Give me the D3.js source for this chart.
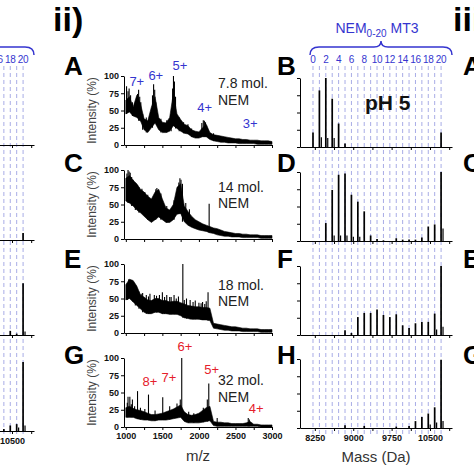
<!DOCTYPE html>
<html><head><meta charset="utf-8">
<script src="https://cdn.jsdelivr.net/npm/d3@7"></script>
<style>html,body{margin:0;padding:0;background:#fff;overflow:hidden}svg{display:block}</style>
</head><body><svg id="c" width="474" height="474"></svg>
<script>
// ---------------- DATA ----------------
const mzGrid = [1000,1050,1100,1150,1200,1250,1300,1350,1400,1450,1500,1550,1600,1650,1700,1750,1800,1850,1900,1950,2000,2050,2100,2150,2200,2250,2300,2350,2400,2450,2500,2550,2600,2650,2700,2750,2800,2850,2900,2950,3000];
const mzTicks = [1000,1250,1500,1750,2000,2250,2500,2750,3000];
const mzTickLabels = [1000,1500,2000,2500,3000];
const intensityTicks = [0,25,50,75,100];

const specA_upper = [65,70,55,72,60,38,35,55,70,40,33,32,40,75,45,37,30,28,22,20,19,25,30,18,15,14,13,12,11,10,9,9,8,8,7,7,7,6,6,6,5];
const specA_lower = [45,48,42,40,35,22,18,25,32,22,18,18,20,28,24,20,17,16,12,10,10,12,12,8,6,5,4,4,3,3,3,2,2,2,2,2,1,1,1,1,1];
const specA_spikes = [[1010,85],[1030,78],[1045,82],[1065,72],[1090,62],[1120,60],[1160,74],[1175,80],[1190,70],[1205,62],[1230,45],[1280,40],[1365,72],[1380,88],[1395,80],[1410,62],[1480,38],[1560,36],[1620,45],[1640,82],[1652,100],[1665,92],[1680,70],[1730,40],[1790,33],[1850,30],[1900,24],[2040,32],[2060,36],[2075,35],[2090,33],[2105,28],[2200,17]];

const specC_upper = [88,92,85,80,72,68,62,58,68,72,58,45,42,50,75,80,48,40,33,28,25,22,20,18,16,15,13,11,10,9,8,8,7,7,6,6,6,5,5,5,5];
const specC_lower = [55,52,48,42,38,33,28,24,28,32,28,24,24,28,36,37,25,20,17,15,13,12,11,9,8,6,5,4,4,3,3,3,2,2,2,2,2,1,1,1,1];
const specC_spikes = [[1015,95],[1030,100],[1045,98],[1060,96],[1080,90],[1100,86],[1130,80],[1160,78],[1180,75],[1220,73],[1260,68],[1300,64],[1410,72],[1425,74],[1445,70],[1480,66],[1560,48],[1660,56],[1725,82],[1740,88],[1755,86],[1775,80],[1820,52],[1870,43],[2140,51]];

const specE_upper = [70,78,76,68,55,52,48,47,50,50,47,47,45,46,46,44,42,40,39,38,38,37,37,36,14,13,12,11,10,9,9,8,7,7,6,6,6,5,5,5,5];
const specE_lower = [48,50,45,40,35,30,28,28,30,30,28,28,27,27,27,25,22,21,20,20,20,19,19,18,7,6,5,4,4,3,3,3,2,2,2,2,2,1,1,1,1];
const specE_spikes = [[1020,72],[1040,78],[1070,74],[1100,72],[1130,68],[1160,64],[1180,60],[1210,57],[1230,58],[1280,55],[1310,53],[1330,57],[1390,55],[1420,54],[1460,55],[1500,59],[1530,52],[1560,55],[1600,52],[1620,52],[1660,55],[1690,50],[1720,53],[1780,100],[1800,48],[1830,50],[1880,48],[1920,45],[1950,47],[2000,44],[2030,43],[2050,45],[2080,42],[2100,46],[2125,59]];

const specG_upper = [28,30,27,25,24,22,20,18,18,19,20,22,24,26,29,32,22,18,17,18,20,24,28,30,8,7,7,6,6,5,5,5,5,6,8,4,4,3,3,3,3];
const specG_lower = [14,14,14,12,11,10,10,9,9,10,10,10,11,12,13,14,8,6,6,6,6,7,8,9,2,1,1,1,1,1,1,1,1,1,1,1,1,0,0,0,0];
const specG_spikes = [[1020,35],[1030,44],[1055,44],[1075,33],[1090,40],[1120,30],[1160,52],[1200,28],[1260,26],[1310,47],[1400,24],[1505,43],[1600,30],[1700,34],[1745,40],[1765,100],[1860,22],[1930,20],[2060,28],[2115,40],[2135,63],[2250,13],[2675,13],[2690,11]];

const molLabels = [["7.8 mol.","NEM"],["14 mol.","NEM"],["18 mol.","NEM"],["32 mol.","NEM"]];
const chargeA = [["7+",1150],["6+",1410],["5+",1740],["4+",2080],["3+",2700]];
const chargeG = [["8+",1330],["7+",1590],["6+",1810],["5+",2175],["4+",2785]];

// deconvoluted masses
const MT3_BASE = 8214;   // Da, NEM0
const NEM_MASS = 125.13; // Da per NEM
const nemIndex = d3.range(0,21);
const nemLabels = [0,2,4,6,8,10,12,14,16,18,20];
const massTicks = [8250,8625,9000,9375,9750,10125,10500,10875];
const massTickLabels = [8250,9000,9750,10500];

const massB = [21,82,100,70,34,5,0,0,0,0,0,0,0,0,0,0,0,0,0,0,21];
const massD = [0,0,26,74,96,98,67,57,43,8,3,1,0,4,2,2,2,5,21,24,100];
const massF = [0,0,0,0,0,7,3,26,32,32,37,29,26,30,14,10,17,19,19,31,100];
const massH = [0,0,0,0,0,4,0,0,3,0,0,0,0,2,0,3,10,16,21,30,99];
const adductB = [[1,14],[2,13],[3,13]];
const adductD = [[3,8],[4,8],[5,8],[6,6],[7,6],[20,18]];
const adductF = [[19,8],[20,12]];
const adductH = [[18,5],[19,8],[20,10]];

// section i) strip at the left edge (NEM 14-20 visible)
const leftNem = [14,15,16,17,18,19,20];
const leftNemLabels = [16,18,20];
const left1 = [0,0,0,0,0,0,0];
const left2 = [0,0,0,0,0,0,10];
const left3 = [0,0,0,0,6,2,75];
const left4 = [0,0,0,3,8,10,100];
const leftAdduct = [[],[],[[20,5]],[[19,5],[20,8]]];
const leftTickLabels = [10500];

// ---------------- DRAW ----------------
const FONT = '"Liberation Sans", Arial, Helvetica, sans-serif';
const BLUE = '#3535cf', RED = '#e5202a', DASHC = '#a8ace6';
const svg = d3.select('#c').style('font-family', FONT);

const specBottoms = [145,239,333,427];
const massBottoms = [147,241,335,428];
const leftBottoms = [145,240,335,431];
const PH = 69;

const xS = d3.scaleLinear().domain([975,3000]).range([124,272]);
const xM = d3.scaleLinear().domain([7960,10930]).range([300,452]);
const SHIFT = -418;
const xL = d3.scaleLinear().domain(xM.domain()).range(xM.range().map(v => v + SHIFT));
const nemMass = n => MT3_BASE + n * NEM_MASS;

// dashed NEM guide lines
const gDash = svg.append('g');
nemIndex.forEach(n => {
  gDash.append('line').attr('x1', xM(nemMass(n))).attr('x2', xM(nemMass(n)))
    .attr('y1', 66).attr('y2', 434).attr('stroke', DASHC).attr('stroke-width', 1)
    .attr('stroke-dasharray', '4,3');
});
leftNem.forEach(n => {
  gDash.append('line').attr('x1', xL(nemMass(n))).attr('x2', xL(nemMass(n)))
    .attr('y1', 66).attr('y2', 436).attr('stroke', DASHC).attr('stroke-width', 1)
    .attr('stroke-dasharray', '4,3');
});

function styleAxis(g) {
  g.selectAll('path.domain').attr('stroke', '#000').attr('stroke-width', 1);
  g.selectAll('.tick line').attr('stroke', '#000');
  g.selectAll('.tick text').attr('font-family', FONT).attr('font-size', 9)
    .attr('font-weight', 'bold').attr('fill', '#111');
}

// spectra panels
const spectra = [
  [specA_upper, specA_lower, specA_spikes],
  [specC_upper, specC_lower, specC_spikes],
  [specE_upper, specE_lower, specE_spikes],
  [specG_upper, specG_lower, specG_spikes]
];
spectra.forEach(([up, lo, spikes], i) => {
  const yb = specBottoms[i];
  const y = d3.scaleLinear().domain([0,100]).range([yb, yb - PH]);
  const g = svg.append('g');
  const area = d3.area().x((d, k) => xS(mzGrid[k])).y0((d, k) => y(lo[k])).y1(d => y(d));
  g.append('path').datum(up).attr('d', area).attr('fill', '#000').attr('stroke', '#000').attr('stroke-width', 0.6);
  spikes.forEach(([mz, v]) => {
    const k = Math.round((mz - 1000) / 50);
    g.append('line').attr('x1', xS(mz)).attr('x2', xS(mz)).attr('y1', y(lo[k])).attr('y2', y(v))
      .attr('stroke', '#000').attr('stroke-width', 1.1);
  });
  const ya = svg.append('g').attr('transform', `translate(${xS(975)},0)`)
    .call(d3.axisLeft(y).tickValues(intensityTicks).tickSize(3).tickSizeOuter(0).tickPadding(2));
  styleAxis(ya);
  const bottom = i === 3;
  const xa = svg.append('g').attr('transform', `translate(0,${yb})`)
    .call(d3.axisBottom(xS).tickValues(mzTicks).tickSize(3).tickSizeOuter(0).tickPadding(3)
      .tickFormat(d => bottom && mzTickLabels.includes(d) ? d : ''));
  styleAxis(xa);
  svg.append('text').attr('transform', `translate(96,${yb - PH / 2}) rotate(-90)`)
    .attr('text-anchor', 'middle').attr('font-size', 12).attr('fill', '#444').text('Intensity (%)');
  const t = svg.append('text').attr('x', 218).attr('font-size', 14).attr('fill', '#222');
  t.append('tspan').attr('x', 218).attr('y', [88, 192, 290, 385][i]).text(molLabels[i][0]);
  t.append('tspan').attr('x', 218).attr('y', [105, 208, 306, 402][i]).text(molLabels[i][1]);
});

// charge state labels
const yA = [86, 80, 70, 112, 128];
chargeA.forEach(([s, mz], k) => {
  svg.append('text').attr('x', xS(mz)).attr('y', yA[k]).attr('text-anchor', 'middle')
    .attr('font-size', 13).attr('fill', BLUE).text(s);
});
const yG = [386, 382, 351, 374, 413];
chargeG.forEach(([s, mz], k) => {
  svg.append('text').attr('x', xS(mz)).attr('y', yG[k]).attr('text-anchor', 'middle')
    .attr('font-size', 13).attr('fill', RED).text(s);
});

// mass panels
const masses = [[massB, adductB], [massD, adductD], [massF, adductF], [massH, adductH]];
masses.forEach(([h, ad], i) => {
  const yb = massBottoms[i];
  const y = d3.scaleLinear().domain([0,100]).range([yb, yb - PH]);
  const g = svg.append('g');
  h.forEach((v, n) => {
    if (v > 0) g.append('line').attr('x1', xM(nemMass(n))).attr('x2', xM(nemMass(n)))
      .attr('y1', y(0)).attr('y2', y(v)).attr('stroke', '#000').attr('stroke-width', 1.7);
  });
  ad.forEach(([n, v]) => {
    g.append('line').attr('x1', xM(nemMass(n) + 38)).attr('x2', xM(nemMass(n) + 38))
      .attr('y1', y(0)).attr('y2', y(v)).attr('stroke', '#000').attr('stroke-width', 1.2);
  });
  const ya = svg.append('g').attr('transform', `translate(300,0)`)
    .call(d3.axisLeft(y).tickValues(intensityTicks).tickSize(3).tickSizeOuter(0).tickFormat(''));
  styleAxis(ya);
  const bottom = i === 3;
  const xa = svg.append('g').attr('transform', `translate(0,${yb})`)
    .call(d3.axisBottom(xM).tickValues(massTicks).tickSize(3).tickSizeOuter(0).tickPadding(4)
      .tickFormat(d => bottom && massTickLabels.includes(d) ? d : ''));
  styleAxis(xa);
});

// left strip (section i)
[left1, left2, left3, left4].forEach((h, i) => {
  const yb = leftBottoms[i];
  const y = d3.scaleLinear().domain([0,100]).range([yb, yb - PH]);
  h.forEach((v, k) => {
    if (v > 0) svg.append('line').attr('x1', xL(nemMass(leftNem[k]))).attr('x2', xL(nemMass(leftNem[k])))
      .attr('y1', y(0)).attr('y2', y(v)).attr('stroke', '#000').attr('stroke-width', 1.7);
  });
  leftAdduct[i].forEach(([n, v]) => {
    svg.append('line').attr('x1', xL(nemMass(n) + 38)).attr('x2', xL(nemMass(n) + 38))
      .attr('y1', y(0)).attr('y2', y(v)).attr('stroke', '#000').attr('stroke-width', 1.2);
  });
  const bottom = i === 3;
  const xa = svg.append('g').attr('transform', `translate(0,${yb})`)
    .call(d3.axisBottom(xL).tickValues(massTicks.filter(m => xL(m) > -5)).tickSize(3).tickSizeOuter(0).tickPadding(4)
      .tickFormat(d => bottom && leftTickLabels.includes(d) ? d : ''));
  styleAxis(xa);
});

// NEM number labels
const labAttrs = s => s.attr('y', 63).attr('text-anchor', 'middle').attr('font-size', 10)
  .attr('letter-spacing', '-0.3').attr('fill', BLUE);
nemLabels.forEach(n => {
  labAttrs(svg.append('text').attr('x', xM(nemMass(n)))).text(n);
});
leftNemLabels.forEach(n => {
  labAttrs(svg.append('text').attr('x', xL(nemMass(n)))).text(n);
});

// braces
function brace(x0, x1) {
  const m = (x0 + x1) / 2, yf = 47;
  return `M${x0},55 Q${x0},${yf} ${x0 + 9},${yf} L${m - 7},${yf} Q${m},${yf} ${m},${yf - 6} Q${m},${yf} ${m + 7},${yf} L${x1 - 9},${yf} Q${x1},${yf} ${x1},55`;
}
svg.append('path').attr('d', brace(310, 452)).attr('fill', 'none').attr('stroke', BLUE).attr('stroke-width', 1.5);
svg.append('path').attr('d', brace(310 + SHIFT, 452 + SHIFT)).attr('fill', 'none').attr('stroke', BLUE).attr('stroke-width', 1.5);

const nt = svg.append('text').attr('x', 377).attr('y', 33).attr('text-anchor', 'middle')
  .attr('font-size', 14).attr('fill', BLUE);
nt.append('tspan').text('NEM');
nt.append('tspan').attr('font-size', 10).attr('dy', 4).text('0-20');
nt.append('tspan').attr('dy', -4).text(' MT3');

svg.append('text').attr('x', 365).attr('y', 110).attr('font-size', 21).attr('font-weight', 'bold')
  .attr('fill', '#111').text('pH 5');

// axis titles
svg.append('text').attr('x', 198).attr('y', 461).attr('text-anchor', 'middle').attr('font-size', 15)
  .attr('fill', '#333').text('m/z');
svg.append('text').attr('x', 376).attr('y', 462).attr('text-anchor', 'middle').attr('font-size', 15)
  .attr('fill', '#333').text('Mass (Da)');

// section & panel letters
svg.append('text').attr('x', 53).attr('y', 31).attr('font-size', 34).attr('font-weight', 'bold').text('ii)');
svg.append('text').attr('x', 453).attr('y', 31).attr('font-size', 34).attr('font-weight', 'bold').text('iii)');
const letterY = [75, 172, 268, 364];
[['A','B'],['C','D'],['E','F'],['G','H']].forEach(([l, r], i) => {
  svg.append('text').attr('x', 64).attr('y', letterY[i]).attr('font-size', 26).attr('font-weight', 'bold').text(l);
  svg.append('text').attr('x', 277).attr('y', letterY[i]).attr('font-size', 26).attr('font-weight', 'bold').text(r);
  svg.append('text').attr('x', 463).attr('y', letterY[i]).attr('font-size', 26).attr('font-weight', 'bold').text(l);
});
</script></body></html>
